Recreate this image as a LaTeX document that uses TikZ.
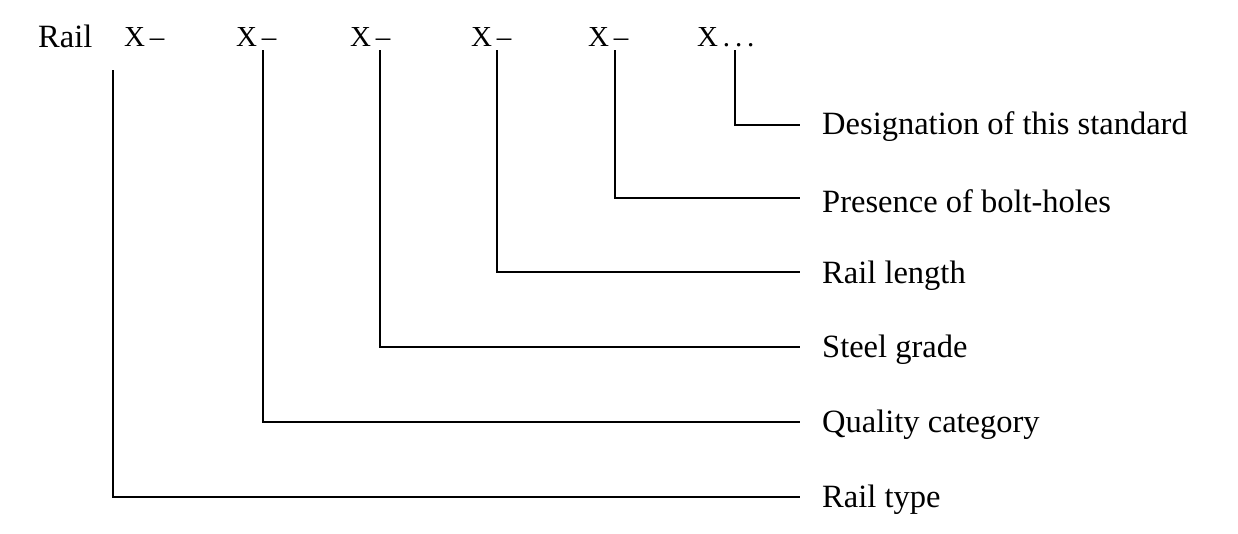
\documentclass[tikz,border=0pt]{standalone}
\usepackage{fontspec}
\setmainfont{Liberation Serif}
\begin{document}
\begin{tikzpicture}[x=1pt,y=-1pt,
  lbl/.style={anchor=west,inner sep=0pt,font=\fontsize{32.5}{36}\selectfont},
  xx/.style={anchor=base west,inner sep=0pt,font=\fontsize{29}{32}\selectfont},
  ln/.style={line width=1.3pt}]
\useasboundingbox (0,0) rectangle (1238,533);
\node[anchor=base west,inner sep=0pt,font=\fontsize{32.5}{36}\selectfont] (rail) at (38,47) {Rail};
\node[xx] (x1) at (124,46) {X\,–};
\node[xx] (x2) at (236,46) {X\,–};
\node[xx] (x3) at (350,46) {X\,–};
\node[xx] (x4) at (471,46) {X\,–};
\node[xx] (x5) at (588,46) {X\,–};
\node[xx] (x6) at (697,46) {X\,.\,.\,.};
\node[lbl] (l6) at (822,127) {Designation of this standard};
\node[lbl] (l5) at (822,201) {Presence of bolt-holes};
\node[lbl] (l4) at (822,276) {Rail length};
\node[lbl] (l3) at (822,350) {Steel grade};
\node[lbl] (l2) at (822,425) {Quality category};
\node[lbl] (l1) at (822,500) {Rail type};
\coordinate (t1) at (113,70);
\coordinate (t2) at (263,50);
\coordinate (t3) at (380,50);
\coordinate (t4) at (497,50);
\coordinate (t5) at (615,50);
\coordinate (t6) at (735,50);
\foreach \i/\y in {1/497,2/422,3/347,4/272,5/198,6/125}{
  \coordinate (e\i) at (800,\y);
  \draw[ln] (t\i) |- (e\i);
}
\end{tikzpicture}
\end{document}
